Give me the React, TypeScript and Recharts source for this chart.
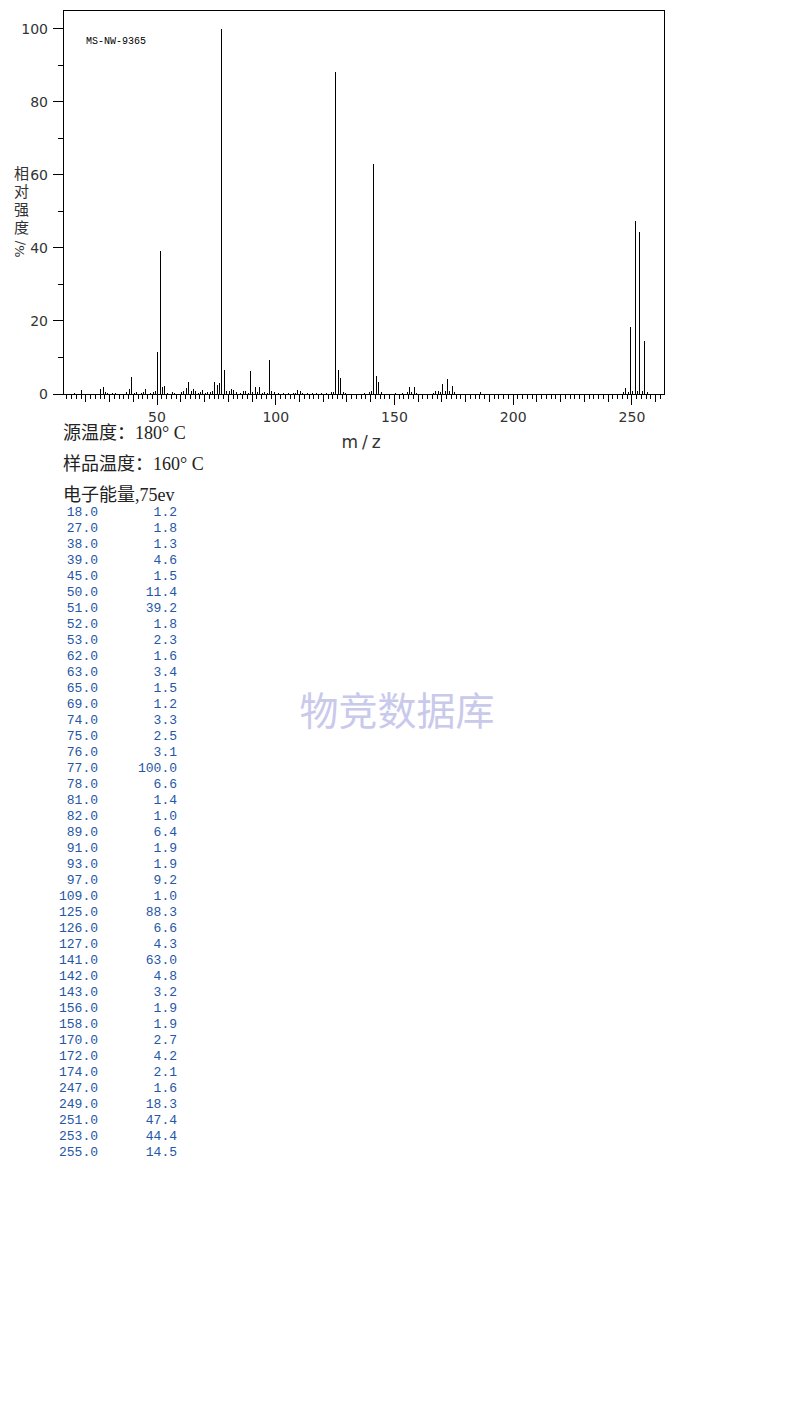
import { Bar, BarChart, XAxis, YAxis, ReferenceArea } from "recharts";

// peaks listed in the table (m/z, relative intensity %)
const peakMz = [
  18, 27, 38, 39, 45, 50, 51, 52, 53, 62, 63, 65, 69, 74, 75, 76, 77, 78, 81, 82, 89, 91, 93, 97,
  109, 125, 126, 127, 141, 142, 143, 156, 158, 170, 172, 174, 247, 249, 251, 253, 255,
];
const peakIntensity = [
  1.2, 1.8, 1.3, 4.6, 1.5, 11.4, 39.2, 1.8, 2.3, 1.6, 3.4, 1.5, 1.2, 3.3, 2.5, 3.1, 100.0, 6.6, 1.4,
  1.0, 6.4, 1.9, 1.9, 9.2, 1.0, 88.3, 6.6, 4.3, 63.0, 4.8, 3.2, 1.9, 1.9, 2.7, 4.2, 2.1, 1.6, 18.3,
  47.4, 44.4, 14.5,
];

// small peaks drawn in the spectrum but below the table's cut-off
const minorMz = [
  15, 26, 28, 29, 31, 32, 37, 40, 41, 43, 44, 47, 48, 49, 54, 56, 57, 60, 61, 64, 66, 67, 68, 70,
  71, 72, 73, 79, 80, 83, 85, 86, 87, 88, 90, 92, 94, 95, 96, 98, 99, 101, 103, 105, 107, 108,
  110, 111, 113, 115, 117, 119, 121, 123, 124, 128, 129, 137, 139, 140, 144, 150, 153, 155, 157,
  159, 166, 167, 168, 169, 171, 173, 175, 186, 246, 248, 250, 252, 254, 256,
];
const minorIntensity = [
  0.4, 1.5, 0.6, 0.3, 0.3, 0.4, 0.6, 0.4, 0.5, 0.4, 0.6, 0.3, 0.5, 0.8, 0.3, 0.5, 0.4, 0.6, 0.9,
  0.8, 0.9, 0.4, 0.5, 0.4, 0.5, 0.6, 0.8, 0.8, 0.9, 0.5, 0.4, 0.8, 0.9, 0.4, 0.6, 0.5, 0.4, 0.5,
  0.4, 0.7, 0.6, 0.3, 0.3, 0.4, 0.4, 0.3, 0.9, 0.4, 0.3, 0.3, 0.4, 0.3, 0.4, 0.5, 0.6, 0.6, 0.3,
  0.3, 0.6, 0.7, 0.5, 0.3, 0.4, 0.6, 0.6, 0.4, 0.3, 0.8, 0.9, 0.5, 0.9, 0.7, 0.6, 0.6, 0.5, 0.6,
  0.7, 0.8, 0.7, 0.6,
];

const xTickLabels = [50, 100, 150, 200, 250];
const yTickLabels = [0, 20, 40, 60, 80, 100];

const headerLines = ["源温度：180° C", "样品温度：160° C", "电子能量,75ev"];

const spectrum = [
  ...peakMz.map((mz, i) => ({ mz, value: peakIntensity[i] })),
  ...minorMz.map((mz, i) => ({ mz, value: minorIntensity[i] })),
].sort((a, b) => a.mz - b.mz);

const xTicks: number[] = [];
for (let t = 12; t <= 262; t += 2) xTicks.push(t);
const yTicks: number[] = [];
for (let t = 0; t <= 100; t += 10) yTicks.push(t);

function XTick({ x, y, payload }: any) {
  const v = payload.value;
  const len = v % 50 === 0 ? 11 : v % 10 === 0 ? 8 : 5;
  return (
    <g>
      <line x1={x} y1={y} x2={x} y2={y + len} stroke="#000" />
      {xTickLabels.includes(v) && (
        <text x={x} y={y + 28} textAnchor="middle" fontSize={14} fontFamily="DejaVu Sans" fill="#333">
          {v}
        </text>
      )}
    </g>
  );
}

function YTick({ x, y, payload }: any) {
  const v = payload.value;
  const major = yTickLabels.includes(v);
  return (
    <g>
      <line x1={x - (major ? 10 : 5)} y1={y} x2={x} y2={y} stroke="#000" />
      {major && (
        <text x={x - 15} y={y + 5} textAnchor="end" fontSize={14} fontFamily="DejaVu Sans" fill="#333">
          {v}
        </text>
      )}
    </g>
  );
}

function Peak(props: any) {
  const { x, y, width, height } = props;
  if (!height || height <= 0) return null;
  return <rect x={Math.round(x + width / 2)} y={y} width={1} height={height} fill="#000" />;
}

const serif = '"Liberation Serif", "Noto Sans CJK SC", serif';

export default function App() {
  return (
    <div style={{ position: "absolute", left: 0, top: 0, width: 794, height: 1417, background: "#fff" }}>
      <BarChart
        width={700}
        height={460}
        data={spectrum}
        margin={{ top: 10, right: 36, bottom: 0, left: 0 }}
        style={{ shapeRendering: "crispEdges" }}
      >
        <XAxis
          type="number"
          dataKey="mz"
          domain={[10.4, 263.5]}
          ticks={xTicks}
          interval={0}
          tick={<XTick />}
          tickLine={false}
          tickSize={0}
          tickMargin={0}
          height={66}
          axisLine={{ stroke: "#000" }}
          allowDataOverflow
        />
        <YAxis
          type="number"
          domain={[0, 105.2]}
          ticks={yTicks}
          interval={0}
          tick={<YTick />}
          tickLine={false}
          tickSize={0}
          tickMargin={0}
          width={63}
          axisLine={{ stroke: "#000" }}
          allowDataOverflow
        />
        <ReferenceArea x1={10.4} x2={263.5} y1={0} y2={105.2} fill="none" stroke="#000" />
        <Bar dataKey="value" barSize={1} shape={<Peak />} isAnimationActive={false} />
      </BarChart>

      <div
        style={{
          position: "absolute",
          left: 86,
          top: 36,
          fontFamily: "Liberation Mono",
          fontSize: 10,
          color: "#000",
        }}
      >
        MS-NW-9365
      </div>

      {/* y axis title, stacked vertically */}
      <div
        style={{
          position: "absolute",
          left: 12,
          top: 166,
          width: 18,
          fontFamily: '"Noto Sans CJK SC"',
          fontSize: 15,
          lineHeight: "18px",
          letterSpacing: 3,
          color: "#333",
          writingMode: "vertical-rl",
        }}
      >
        相对强度
      </div>
      <div
        style={{
          position: "absolute",
          left: 10,
          top: 240,
          width: 20,
          height: 18,
          fontFamily: "DejaVu Sans",
          fontSize: 13,
          lineHeight: "18px",
          color: "#333",
          textAlign: "center",
          transform: "rotate(-90deg)",
        }}
      >
        %/
      </div>

      <div
        style={{
          position: "absolute",
          left: 323,
          top: 432,
          width: 80,
          textAlign: "center",
          fontFamily: "DejaVu Sans",
          fontSize: 17,
          letterSpacing: 4,
          color: "#333",
        }}
      >
        m/z
      </div>

      {headerLines.map((t, i) => (
        <div
          key={t}
          style={{
            position: "absolute",
            left: 63,
            top: 421 + i * 31,
            fontFamily: serif,
            fontSize: 18,
            lineHeight: "24px",
            color: "#222",
            whiteSpace: "pre",
          }}
        >
          {t}
        </div>
      ))}

      {peakMz.map((mz, i) => (
        <div
          key={mz}
          style={{
            position: "absolute",
            left: 0,
            top: 505 + i * 16,
            height: 16,
            lineHeight: "16px",
            fontFamily: '"Liberation Mono", monospace',
            fontSize: 13,
            color: "#2356a6",
            whiteSpace: "pre",
          }}
        >
          <span style={{ display: "inline-block", width: 98, textAlign: "right" }}>{mz.toFixed(1)}</span>
          <span style={{ display: "inline-block", width: 79, textAlign: "right" }}>
            {peakIntensity[i].toFixed(1)}
          </span>
        </div>
      ))}

      <div
        style={{
          position: "absolute",
          left: 247,
          top: 682,
          width: 300,
          textAlign: "center",
          fontFamily: '"Noto Sans CJK SC"',
          fontSize: 39,
          lineHeight: "52px",
          color: "#c9c9ec",
        }}
      >
        物竞数据库
      </div>
    </div>
  );
}
